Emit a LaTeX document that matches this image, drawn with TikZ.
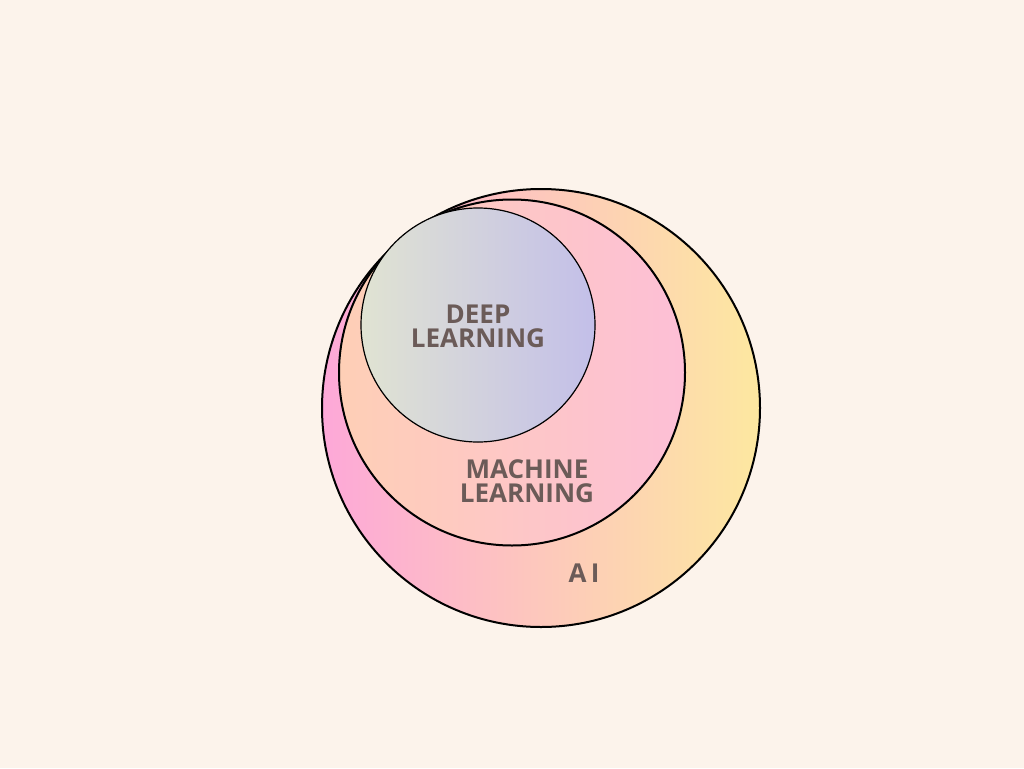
\documentclass[tikz,border=0pt]{standalone}
\usepackage{fontspec}
\setmainfont{Open Sans}
\definecolor{bg}{HTML}{FCF3EB}
\definecolor{txt}{HTML}{6B5B58}
\definecolor{aiL}{HTML}{FDA8D8}
\definecolor{aiR}{HTML}{FDE8A0}
\definecolor{mlL}{HTML}{FECFB6}
\definecolor{mlR}{HTML}{FDBFD6}
\definecolor{dlL}{HTML}{E0E3D2}
\definecolor{dlR}{HTML}{C3BFE9}
\begin{document}
\begin{tikzpicture}[x=1pt,y=-1pt,
  ring/.style={draw=black,line width=2pt},
  lab/.style={text=txt,font=\fontsize{26}{30}\selectfont\bfseries,align=center}]
\fill[bg] (0,0) rectangle (1024,768);
\useasboundingbox (0,0) rectangle (1024,768);
\fill[left color=aiL,right color=aiR] (541,408) circle (219);
\draw[ring] (541,408) circle (219);
\fill[left color=mlL,right color=mlR] (512,372.5) circle (173);
\draw[ring] (512,372.5) circle (173);
\fill[left color=dlL,right color=dlR] (478,325) circle (117);
\draw[draw=black,line width=1.2pt] (478,325) circle (117);
\node[lab] (dl) at (478,326) {DEEP\\[-6pt]LEARNING};
\node[lab] (ml) at (527,481) {MACHINE\\[-6pt]LEARNING};
\node[lab] (ai) at (584,573) {A\,I};
\end{tikzpicture}
\end{document}
